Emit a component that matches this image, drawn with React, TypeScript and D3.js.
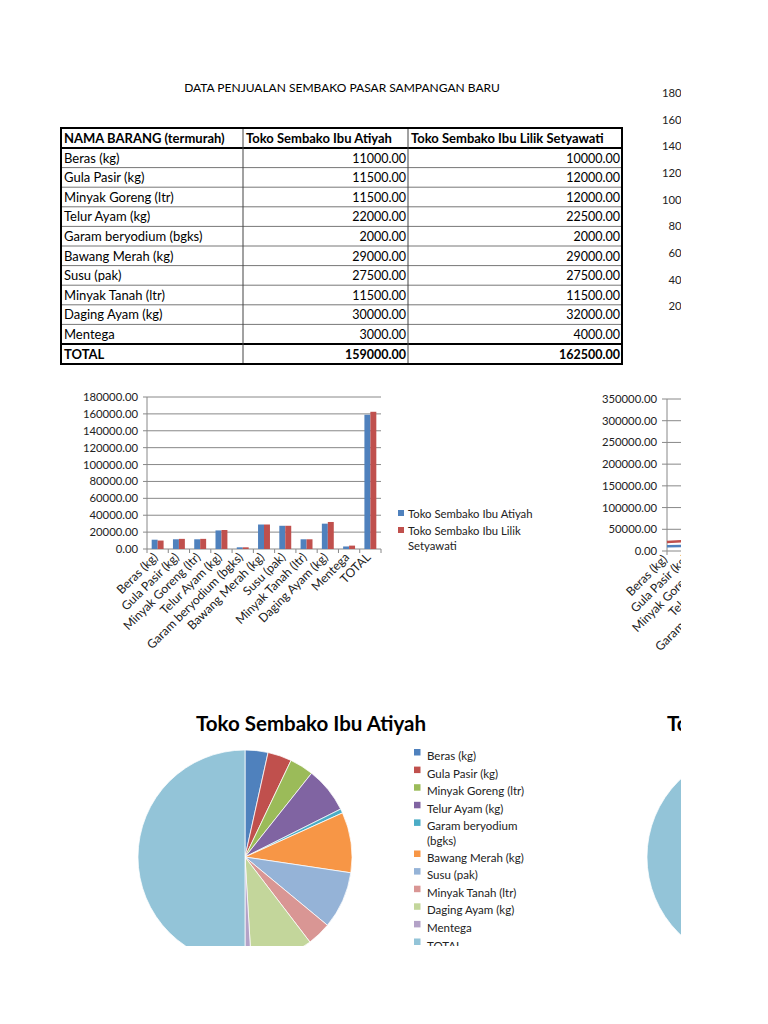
import * as d3 from 'd3';

// data from the sheet
const items = [
  'Beras (kg)',
  'Gula Pasir (kg)',
  'Minyak Goreng (ltr)',
  'Telur Ayam (kg)',
  'Garam beryodium (bgks)',
  'Bawang Merah (kg)',
  'Susu (pak)',
  'Minyak Tanah (ltr)',
  'Daging Ayam (kg)',
  'Mentega',
  'TOTAL',
];
const atiyah = [11000, 11500, 11500, 22000, 2000, 29000, 27500, 11500, 30000, 3000, 159000];
const lilik = [10000, 12000, 12000, 22500, 2000, 29000, 27500, 11500, 32000, 4000, 162500];
const seriesNames = ['Toko Sembako Ibu Atiyah', 'Toko Sembako Ibu Lilik Setyawati'];
const barTicks = [0, 20000, 40000, 60000, 80000, 100000, 120000, 140000, 160000, 180000];
const lineTicks = [0, 50000, 100000, 150000, 200000, 250000, 300000, 350000];
const sideTicks = [0, 20000, 40000, 60000, 80000, 100000, 120000, 140000, 160000, 180000];

const pageTitle = 'DATA PENJUALAN SEMBAKO PASAR SAMPANGAN BARU';
const tableHead = ['NAMA BARANG (termurah)', seriesNames[0], seriesNames[1]];

const seriesColors = ['#4F81BD', '#C0504D'];
const pieColors = ['#4F81BD', '#C0504D', '#9BBB59', '#8064A2', '#4BACC6', '#F79646',
  '#95B3D7', '#D99694', '#C3D69B', '#B3A2C7', '#93C4D8'];

const FONT = "Lato, 'Open Sans', sans-serif";
const fmt = d3.format('.2f');

const Table = () => {
  const colX = [61, 243, 408, 622];
  const rowY = [128, 148];
  for (let i = 1; i < items.length; i++) rowY.push(148 + i * 19.6);
  rowY.push(364);
  return (
    <g fontFamily={FONT} fontSize={13} fill="#000">
      {rowY.slice(1, -1).map((y, i) => (
        <line key={i} x1={colX[0]} x2={colX[3]} y1={y} y2={y}
          stroke={i === 0 || i === items.length - 1 ? '#000' : '#777'}
          strokeWidth={i === 0 || i === items.length - 1 ? 2 : 1} />
      ))}
      {colX.slice(1, -1).map((x, i) => (
        <line key={i} x1={x} x2={x} y1={128} y2={364} stroke="#444" strokeWidth={1} />
      ))}
      <rect x={61} y={128} width={561} height={236} fill="none" stroke="#000" strokeWidth={2} />
      {tableHead.map((h, i) => (
        <text key={i} x={colX[i] + 3} y={142.5} fontWeight="bold">{h}</text>
      ))}
      {items.map((name, i) => {
        const y = rowY[i + 1] + 14.5;
        const bold = name === 'TOTAL' ? 'bold' : 'normal';
        return (
          <g key={name} fontWeight={bold}>
            <text x={64} y={y}>{name}</text>
            <text x={406} y={y} fontSize={12.5} textAnchor="end">{fmt(atiyah[i])}</text>
            <text x={620} y={y} fontSize={12.5} textAnchor="end">{fmt(lilik[i])}</text>
          </g>
        );
      })}
    </g>
  );
};

const BarChart = () => {
  const x = d3.scaleBand<string>().domain(items).range([147, 381]).paddingInner(0.44).paddingOuter(0.22);
  const x1 = d3.scaleBand<number>().domain([0, 1]).range([0, x.bandwidth()]);
  const y = d3.scaleLinear().domain([0, 180000]).range([549, 397]);
  const step = x.step();
  return (
    <g fontFamily={FONT} fontSize={11.3} fill="#222">
      {barTicks.map((t) => (
        <g key={t}>
          <line x1={143} x2={381} y1={y(t)} y2={y(t)} stroke="#888" />
          <text x={138} y={y(t) + 4} textAnchor="end">{fmt(t)}</text>
        </g>
      ))}
      <line x1={147} x2={147} y1={397} y2={549} stroke="#888" />
      {items.map((_, i) => (
        <line key={i} x1={147 + i * step} x2={147 + i * step} y1={549} y2={553} stroke="#888" />
      ))}
      <line x1={381} x2={381} y1={549} y2={553} stroke="#888" />
      {items.map((c, i) => (
        <g key={c}>
          {[atiyah[i], lilik[i]].map((v, s) => (
            <rect key={s} x={x(c)! + x1(s)!} y={y(v)} width={x1.bandwidth()} height={549 - y(v)} fill={seriesColors[s]} />
          ))}
          <text fontSize={12.2} textAnchor="end"
            transform={`translate(${x(c)! + x.bandwidth() / 2 + 1},${558}) rotate(-45)`}>{c}</text>
        </g>
      ))}
      {/* legend */}
      <rect x={398} y={510} width={6} height={6} fill={seriesColors[0]} />
      <text x={408} y={518}>{seriesNames[0]}</text>
      <rect x={398} y={527} width={6} height={6} fill={seriesColors[1]} />
      <text x={408} y={535}>Toko Sembako Ibu Lilik</text>
      <text x={408} y={550}>Setyawati</text>
    </g>
  );
};

const LineChart = () => {
  const x = d3.scalePoint<string>().domain(items).range([667, 667 + 10 * 21]);
  const y = d3.scaleLinear().domain([0, 350000]).range([551, 399]);
  const stacked = atiyah.map((v, i) => v + lilik[i]);
  const line = d3.line<number>().x((_, i) => x(items[i])!).y((d) => y(d));
  return (
    <g fontFamily={FONT} fontSize={11.3} fill="#222">
      {lineTicks.map((t) => (
        <g key={t}>
          <line x1={662} x2={900} y1={y(t)} y2={y(t)} stroke="#888" />
          <text x={657} y={y(t) + 4} textAnchor="end">{fmt(t)}</text>
        </g>
      ))}
      <line x1={667} x2={667} y1={399} y2={555} stroke="#888" />
      <path d={line(atiyah)!} fill="none" stroke={seriesColors[0]} strokeWidth={2.5} />
      <path d={line(stacked)!} fill="none" stroke={seriesColors[1]} strokeWidth={2.5} />
      {items.map((c) => (
        <text key={c} fontSize={12.2} textAnchor="end"
          transform={`translate(${x(c)! + 1},${560}) rotate(-45)`}>{c}</text>
      ))}
    </g>
  );
};

const SideAxis = () => {
  const y = d3.scaleLinear().domain([0, 180000]).range([333, 93]);
  return (
    <g fontFamily={FONT} fontSize={11.3} fill="#222">
      {sideTicks.map((t) => (
        <text key={t} x={717} y={y(t) + 4} textAnchor="end">{fmt(t)}</text>
      ))}
    </g>
  );
};

const Pie = ({ values, cx, cy, title, titleX, anchor, legend }:
  { values: number[]; cx: number; cy: number; title: string; titleX: number; anchor: string; legend: boolean }) => {
  const pie = d3.pie<number>().sort(null).value((d) => d);
  const arc = d3.arc<d3.PieArcDatum<number>>().innerRadius(0).outerRadius(107);
  const arcs = pie(values);
  let ly = 756;
  const rows = items.map((c, i) => {
    const lines = c === 'Garam beryodium (bgks)' ? ['Garam beryodium', '(bgks)'] : [c];
    const row = { c, i, lines, y: ly };
    ly += 17.6 + (lines.length - 1) * 13.5;
    return row;
  });
  return (
    <g fontFamily={FONT}>
      <text x={titleX} y={731} textAnchor={anchor} fontSize={20.5} fontWeight="bold" fill="#000">{title}</text>
      <g transform={`translate(${cx},${cy})`}>
        {arcs.map((a, i) => (
          <path key={i} d={arc(a)!} fill={pieColors[i]} stroke="#fff" strokeWidth={0.75} />
        ))}
      </g>
      {legend && rows.map((r) => (
        <g key={r.c} fontSize={11.5} fill="#222">
          <rect x={414} y={r.y - 7} width={6.5} height={6.5} fill={pieColors[r.i]} />
          {r.lines.map((l, k) => (
            <text key={k} x={427} y={r.y + 4 + k * 15}>{l}</text>
          ))}
        </g>
      ))}
    </g>
  );
};

export default function App() {
  return (
    <svg width={768} height={1024} style={{ position: 'absolute', left: 0, top: 0, background: '#fff' }}>
      <defs>
        <clipPath id="page">
          <rect x={0} y={0} width={681} height={946} />
        </clipPath>
      </defs>
      <rect width={768} height={1024} fill="#fff" />
      <g clipPath="url(#page)">
        <text x={342} y={92} textAnchor="middle" fontFamily={FONT} fontSize={12} fill="#000">{pageTitle}</text>
        <Table />
        <SideAxis />
        <BarChart />
        <LineChart />
        <Pie values={atiyah} cx={245} cy={857} title={seriesNames[0]} titleX={311} anchor="middle" legend />
        <Pie values={lilik} cx={754} cy={857} title={seriesNames[1]} titleX={667} anchor="start" legend={false} />
      </g>
    </svg>
  );
}
